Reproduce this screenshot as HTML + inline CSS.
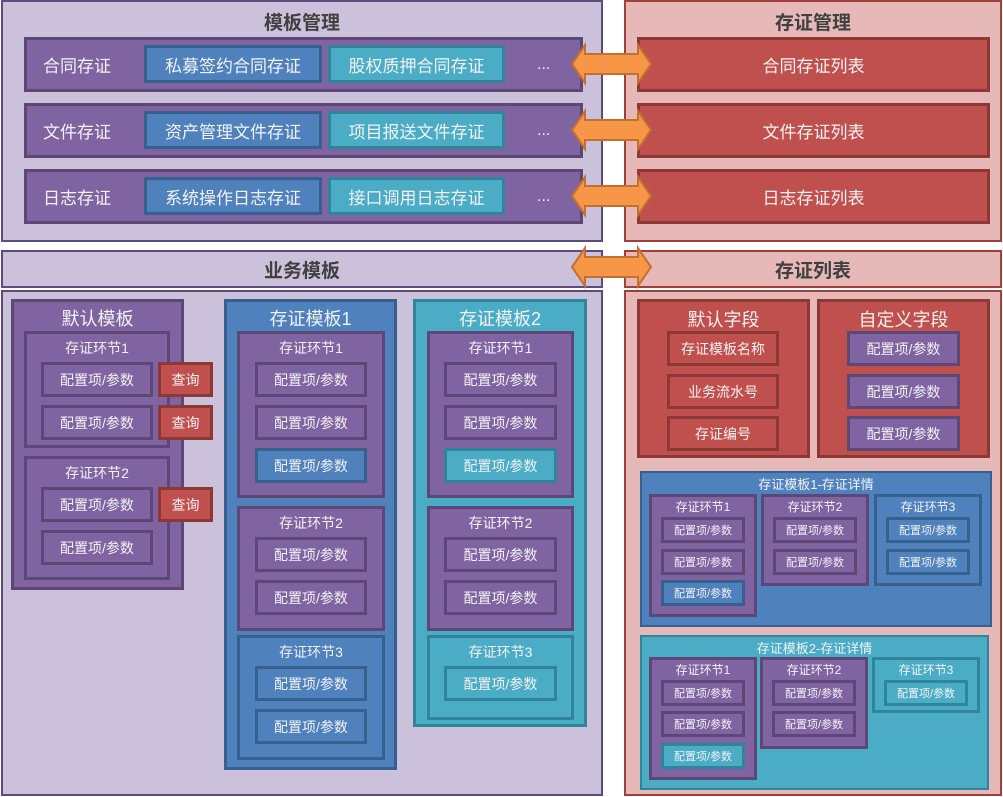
<!DOCTYPE html>
<html><head><meta charset="utf-8"><style>
*{box-sizing:border-box;margin:0;padding:0}
body{width:1003px;height:797px;background:#fff;position:relative;overflow:hidden;font-family:"Liberation Sans","Noto Sans CJK SC",sans-serif}
.b{position:absolute;border:3px solid;display:flex;align-items:center;justify-content:center;color:#f2f2f2;white-space:nowrap}
.t{align-items:flex-start}
.lp{background:#ccc1da;border-color:#5f4a7e;border-width:2px}
.rp{background:#e6b9b8;border-color:#a0403d;border-width:2px}
.p{background:#8064a2;border-color:#5c4776}
.u{background:#4f81bd;border-color:#36618f}
.c{background:#4bacc6;border-color:#31859b}
.r{background:#c0504d;border-color:#8c3836}
.h{color:#404040;font-weight:bold;font-size:19px}
.f14{font-size:14px}.f17{font-size:17px}.f13{font-size:13px}.f11{font-size:11px}.f12{font-size:12px}.f18{font-size:18px}
</style></head><body>
<!-- top panels -->
<div class="b lp t h" style="left:1px;top:0;width:602px;height:242px;padding-top:6px">模板管理</div>
<div class="b rp t h" style="left:624px;top:0;width:378px;height:242px;padding-top:6px">存证管理</div>

<div class="b p f17" style="left:24px;top:37px;width:559px;height:55px;justify-content:flex-start;padding-left:16px">合同存证</div>
<div class="b p f17" style="left:24px;top:103px;width:559px;height:55px;justify-content:flex-start;padding-left:16px">文件存证</div>
<div class="b p f17" style="left:24px;top:169px;width:559px;height:55px;justify-content:flex-start;padding-left:16px">日志存证</div>
<div class="b u f17" style="left:144px;top:45px;width:178px;height:38px">私募签约合同存证</div>
<div class="b c f17" style="left:328px;top:45px;width:177px;height:38px">股权质押合同存证</div>
<div class="b u f17" style="left:144px;top:111px;width:178px;height:38px">资产管理文件存证</div>
<div class="b c f17" style="left:328px;top:111px;width:177px;height:38px">项目报送文件存证</div>
<div class="b u f17" style="left:144px;top:177px;width:178px;height:38px">系统操作日志存证</div>
<div class="b c f17" style="left:328px;top:177px;width:177px;height:38px">接口调用日志存证</div>
<div style="position:absolute;left:537px;top:56px;color:#eee;font-size:16px">...</div>
<div style="position:absolute;left:537px;top:122px;color:#eee;font-size:16px">...</div>
<div style="position:absolute;left:537px;top:188px;color:#eee;font-size:16px">...</div>

<div class="b r f17" style="left:637px;top:37px;width:353px;height:55px">合同存证列表</div>
<div class="b r f17" style="left:637px;top:103px;width:353px;height:55px">文件存证列表</div>
<div class="b r f17" style="left:637px;top:169px;width:353px;height:55px">日志存证列表</div>

<!-- header bars -->
<div class="b lp h" style="left:1px;top:250px;width:602px;height:38px">业务模板</div>
<div class="b rp h" style="left:624px;top:250px;width:378px;height:38px">存证列表</div>

<!-- arrows -->
<svg style="position:absolute;left:0;top:0" width="1003" height="797">
<defs><path id="ar" d="M572,0 L585,-19 L585,-10 L638,-10 L638,-19 L651,0 L638,19 L638,10 L585,10 L585,19 Z" fill="#f79646" stroke="#c0712f" stroke-width="2"/></defs>
<use href="#ar" y="64"/><use href="#ar" y="130"/><use href="#ar" y="196"/><use href="#ar" y="267"/>
</svg>

<!-- lower panels -->
<div class="b lp" style="left:1px;top:290px;width:602px;height:506px"></div>
<div class="b rp" style="left:624px;top:290px;width:378px;height:506px"></div>

<!-- default template -->
<div class="b p t f18" style="left:11px;top:299px;width:173px;height:291px;padding-top:3px">默认模板</div>
<div class="b p t f14" style="left:24px;top:331px;width:146px;height:117px;padding-top:4px">存证环节1</div>
<div class="b p f14" style="left:41px;top:362px;width:112px;height:35px">配置项/参数</div>
<div class="b p f14" style="left:41px;top:405px;width:112px;height:35px">配置项/参数</div>
<div class="b r f14" style="left:158px;top:362px;width:55px;height:35px">查询</div>
<div class="b r f14" style="left:158px;top:405px;width:55px;height:35px">查询</div>
<div class="b p t f14" style="left:24px;top:456px;width:146px;height:124px;padding-top:4px">存证环节2</div>
<div class="b p f14" style="left:41px;top:487px;width:112px;height:35px">配置项/参数</div>
<div class="b p f14" style="left:41px;top:530px;width:112px;height:35px">配置项/参数</div>
<div class="b r f14" style="left:158px;top:487px;width:55px;height:35px">查询</div>

<!-- template 1 -->
<div class="b u t f18" style="left:224px;top:299px;width:173px;height:471px;padding-top:3px">存证模板1</div>
<div class="b p t f14" style="left:237px;top:331px;width:148px;height:167px;padding-top:4px">存证环节1</div>
<div class="b p f14" style="left:255px;top:362px;width:112px;height:35px">配置项/参数</div>
<div class="b p f14" style="left:255px;top:405px;width:112px;height:35px">配置项/参数</div>
<div class="b u f14" style="left:255px;top:448px;width:112px;height:35px">配置项/参数</div>
<div class="b p t f14" style="left:237px;top:506px;width:148px;height:125px;padding-top:4px">存证环节2</div>
<div class="b p f14" style="left:255px;top:537px;width:112px;height:35px">配置项/参数</div>
<div class="b p f14" style="left:255px;top:580px;width:112px;height:35px">配置项/参数</div>
<div class="b u t f14" style="left:237px;top:635px;width:148px;height:125px;padding-top:4px">存证环节3</div>
<div class="b u f14" style="left:255px;top:666px;width:112px;height:35px">配置项/参数</div>
<div class="b u f14" style="left:255px;top:709px;width:112px;height:35px">配置项/参数</div>

<!-- template 2 -->
<div class="b c t f18" style="left:413px;top:299px;width:174px;height:428px;padding-top:3px">存证模板2</div>
<div class="b p t f14" style="left:427px;top:331px;width:147px;height:167px;padding-top:4px">存证环节1</div>
<div class="b p f14" style="left:444px;top:362px;width:113px;height:35px">配置项/参数</div>
<div class="b p f14" style="left:444px;top:405px;width:113px;height:35px">配置项/参数</div>
<div class="b c f14" style="left:444px;top:448px;width:113px;height:35px">配置项/参数</div>
<div class="b p t f14" style="left:427px;top:506px;width:147px;height:125px;padding-top:4px">存证环节2</div>
<div class="b p f14" style="left:444px;top:537px;width:113px;height:35px">配置项/参数</div>
<div class="b p f14" style="left:444px;top:580px;width:113px;height:35px">配置项/参数</div>
<div class="b c t f14" style="left:427px;top:635px;width:147px;height:85px;padding-top:4px">存证环节3</div>
<div class="b c f14" style="left:444px;top:666px;width:113px;height:35px">配置项/参数</div>

<!-- right lower -->
<div class="b r t f18" style="left:637px;top:299px;width:173px;height:159px;padding-top:4px">默认字段</div>
<div class="b r f14" style="left:667px;top:331px;width:112px;height:35px">存证模板名称</div>
<div class="b r f14" style="left:667px;top:374px;width:112px;height:35px">业务流水号</div>
<div class="b r f14" style="left:667px;top:416px;width:112px;height:35px">存证编号</div>
<div class="b r t f18" style="left:817px;top:299px;width:173px;height:159px;padding-top:4px">自定义字段</div>
<div class="b p f14" style="left:847px;top:331px;width:113px;height:35px">配置项/参数</div>
<div class="b p f14" style="left:847px;top:374px;width:113px;height:35px">配置项/参数</div>
<div class="b p f14" style="left:847px;top:416px;width:113px;height:35px">配置项/参数</div>

<div class="b u t f13" style="left:640px;top:471px;width:352px;height:156px;padding-top:1px;border-width:2px">存证模板1-存证详情</div>
<div class="b p t f12" style="left:649px;top:494px;width:108px;height:123px;padding-top:1px">存证环节1</div>
<div class="b p f11" style="left:661px;top:517px;width:84px;height:26px">配置项/参数</div>
<div class="b p f11" style="left:661px;top:549px;width:84px;height:26px">配置项/参数</div>
<div class="b u f11" style="left:661px;top:580px;width:84px;height:26px">配置项/参数</div>
<div class="b p t f12" style="left:761px;top:494px;width:108px;height:92px;padding-top:1px">存证环节2</div>
<div class="b p f11" style="left:773px;top:517px;width:84px;height:26px">配置项/参数</div>
<div class="b p f11" style="left:773px;top:549px;width:84px;height:26px">配置项/参数</div>
<div class="b u t f12" style="left:874px;top:494px;width:108px;height:92px;padding-top:1px">存证环节3</div>
<div class="b u f11" style="left:886px;top:517px;width:84px;height:26px">配置项/参数</div>
<div class="b u f11" style="left:886px;top:549px;width:84px;height:26px">配置项/参数</div>

<div class="b c t f13" style="left:640px;top:635px;width:349px;height:155px;padding-top:1px;border-width:2px">存证模板2-存证详情</div>
<div class="b p t f12" style="left:649px;top:657px;width:108px;height:123px;padding-top:1px">存证环节1</div>
<div class="b p f11" style="left:661px;top:680px;width:84px;height:26px">配置项/参数</div>
<div class="b p f11" style="left:661px;top:711px;width:84px;height:26px">配置项/参数</div>
<div class="b c f11" style="left:661px;top:743px;width:84px;height:26px">配置项/参数</div>
<div class="b p t f12" style="left:760px;top:657px;width:108px;height:92px;padding-top:1px">存证环节2</div>
<div class="b p f11" style="left:772px;top:680px;width:84px;height:26px">配置项/参数</div>
<div class="b p f11" style="left:772px;top:711px;width:84px;height:26px">配置项/参数</div>
<div class="b c t f12" style="left:872px;top:657px;width:108px;height:56px;padding-top:1px">存证环节3</div>
<div class="b c f11" style="left:884px;top:680px;width:84px;height:26px">配置项/参数</div>
</body></html>
